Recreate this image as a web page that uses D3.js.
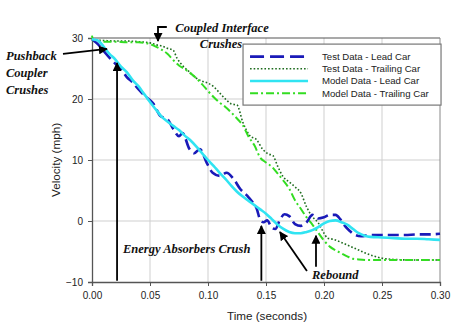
<!DOCTYPE html>
<html>
<head>
<meta charset="utf-8">
<script src="https://cdn.jsdelivr.net/npm/d3@7"></script>
<style>
  body { margin: 0; background: #fff; }
  .tick text { font-family: "Liberation Sans", Arial, sans-serif; font-size: 10px; fill: #222; }
  .note { font-family: "Liberation Serif", "Times New Roman", serif; font-weight: bold; font-style: italic; font-size: 12.5px; fill: #111; }
  .axisText { font-family: "Liberation Sans", Arial, sans-serif; font-size: 11.7px; fill: #222; }
  .legendText { font-family: "Liberation Sans", Arial, sans-serif; font-size: 9.6px; fill: #222; }
</style>
</head>
<body>
<div id="chart"></div>
<script>
// Velocity traces, [time (s), velocity (mph)]
var testLead = [[0,29.8],[0.005,29.0],[0.01,27.9],[0.015,26.8],[0.02,25.8],[0.025,24.9],[0.03,23.6],[0.035,22.7],
  [0.04,21.6],[0.045,20.6],[0.05,19.8],[0.053,19.2],[0.059,17.2],[0.065,16.7],[0.07,15.1],[0.075,13.9],[0.078,14.4],
  [0.084,11.8],[0.088,11.1],[0.093,11.8],[0.099,9.5],[0.104,7.9],[0.11,7.4],[0.116,7.9],[0.122,6.9],[0.128,5.2],
  [0.134,4.1],[0.138,3.2],[0.142,2.0],[0.145,0.2],[0.148,-0.2],[0.151,0.1],[0.155,-1.1],[0.158,-1.3],[0.162,0.2],
  [0.166,1.1],[0.17,0.8],[0.175,-0.5],[0.18,-0.8],[0.185,-0.2],[0.19,1.0],[0.195,0.4],[0.2,0.6],[0.205,1.0],
  [0.21,1.0],[0.214,0.3],[0.218,-0.8],[0.222,-1.6],[0.227,-2.3],[0.232,-2.5],[0.24,-2.3],[0.25,-2.3],[0.26,-2.3],
  [0.27,-2.3],[0.28,-2.2],[0.29,-2.2],[0.3,-2.1]];

var testTrail = [[0,29.7],[0.01,29.6],[0.02,29.5],[0.03,29.5],[0.04,29.4],[0.05,29.2],[0.055,28.9],[0.06,28.7],
  [0.065,28.3],[0.07,28.0],[0.073,26.8],[0.078,25.5],[0.083,24.6],[0.09,23.4],[0.095,22.9],[0.1,22.6],[0.105,22.0],
  [0.11,21.0],[0.115,20.0],[0.12,19.2],[0.125,19.0],[0.13,16.2],[0.136,14.0],[0.142,13.3],[0.147,11.8],[0.152,11.0],
  [0.156,10.7],[0.16,9.0],[0.165,7.2],[0.17,6.4],[0.175,5.6],[0.18,4.6],[0.185,2.3],[0.19,0.7],[0.195,-0.3],
  [0.2,-2.0],[0.203,-2.8],[0.208,-3.0],[0.216,-3.6],[0.222,-4.1],[0.228,-4.6],[0.235,-5.2],[0.242,-5.7],[0.25,-6.1],
  [0.26,-6.3],[0.28,-6.4],[0.3,-6.4]];

var modelLead = [[0,29.8],[0.005,29.6],[0.01,28.6],[0.015,27.4],[0.02,26.5],[0.025,25.3],[0.03,24.4],[0.035,23.1],
  [0.04,22.1],[0.045,20.8],[0.05,19.5],[0.055,18.3],[0.06,17.1],[0.065,16.3],[0.07,15.6],[0.075,14.9],[0.08,14.0],
  [0.085,13.2],[0.09,12.2],[0.095,11.1],[0.1,10.0],[0.105,9.0],[0.11,7.9],[0.115,6.9],[0.12,5.8],[0.125,4.8],
  [0.13,4.0],[0.135,3.3],[0.14,2.6],[0.145,1.9],[0.15,1.2],[0.155,0.3],[0.16,-0.6],[0.165,-1.3],[0.17,-1.8],
  [0.175,-2.0],[0.18,-2.0],[0.185,-1.8],[0.19,-1.5],[0.195,-1.0],[0.2,-0.4],[0.205,0],[0.21,0.1],[0.215,-0.2],
  [0.22,-0.6],[0.225,-1.3],[0.23,-2.0],[0.235,-2.4],[0.24,-2.6],[0.25,-2.7],[0.26,-2.8],[0.27,-2.9],[0.28,-2.9],
  [0.29,-3.0],[0.3,-3.1]];

var modelTrail = [[0,30.4],[0.001,29.5],[0.01,29.4],[0.02,29.4],[0.03,29.3],[0.04,29.3],[0.045,29.2],[0.05,29.0],[0.055,28.6],
  [0.06,28.1],[0.065,27.4],[0.07,26.4],[0.075,25.5],[0.08,24.9],[0.085,24.2],[0.09,23.4],[0.095,22.4],[0.1,21.3],
  [0.105,20.3],[0.11,19.4],[0.115,18.7],[0.12,17.8],[0.125,16.8],[0.13,15.7],[0.135,13.8],[0.14,12.4],[0.145,10.4],
  [0.15,9.6],[0.155,8.9],[0.16,7.8],[0.165,6.6],[0.17,5.3],[0.175,3.4],[0.18,2.0],[0.185,0.6],[0.19,-0.6],
  [0.195,-1.9],[0.2,-3.2],[0.205,-4.2],[0.21,-4.8],[0.215,-5.3],[0.22,-5.8],[0.225,-6.2],[0.23,-6.3],[0.24,-6.4],
  [0.26,-6.4],[0.28,-6.4],[0.3,-6.4]];

var seriesNames = ["Test Data - Lead Car", "Test Data - Trailing Car", "Model Data - Lead Car", "Model Data - Trailing Car"];
var xTicks = [0, 0.05, 0.1, 0.15, 0.2, 0.25, 0.3];
var yTicks = [-10, 0, 10, 20, 30];

var svgWidth = 474, svgHeight = 325;
var margin = { top: 38, right: 34, bottom: 43, left: 92 };
var width = svgWidth - margin.left - margin.right;
var height = svgHeight - margin.top - margin.bottom;

var svg = d3.select("#chart").append("svg")
  .attr("width", svgWidth)
  .attr("height", svgHeight);

var defs = svg.append("defs");
defs.append("marker")
  .attr("id", "head")
  .attr("viewBox", "0 0 10 10")
  .attr("refX", 9).attr("refY", 5)
  .attr("markerWidth", 5).attr("markerHeight", 5)
  .attr("markerUnits", "strokeWidth")
  .attr("orient", "auto")
  .append("path").attr("d", "M0,0L10,5L0,10z").attr("fill", "#000");

var chartGroup = svg.append("g")
  .attr("transform", `translate(${margin.left}, ${margin.top})`);

var x = d3.scaleLinear().domain([0, 0.3]).range([0, width]);
var y = d3.scaleLinear().domain([-10, 30]).range([height, 0]);

// gridlines
chartGroup.append("g").selectAll("line")
  .data(xTicks.slice(1, -1)).enter().append("line")
  .attr("x1", d => x(d)).attr("x2", d => x(d))
  .attr("y1", 0).attr("y2", height)
  .attr("stroke", "#cfcfcf");
chartGroup.append("g").selectAll("line")
  .data(yTicks.slice(1, -1)).enter().append("line")
  .attr("x1", 0).attr("x2", width)
  .attr("y1", d => y(d)).attr("y2", d => y(d))
  .attr("stroke", "#cfcfcf");

// frame top/right
chartGroup.append("line").attr("x1", 0).attr("x2", width).attr("y1", 0).attr("y2", 0)
  .attr("stroke", "#555").attr("stroke-width", 1.2);
chartGroup.append("line").attr("x1", width).attr("x2", width).attr("y1", 0).attr("y2", height)
  .attr("stroke", "#888");

// axes
var bottomAxis = d3.axisBottom(x).tickValues(xTicks).tickFormat(d3.format(".2f")).tickSize(4).tickPadding(6);
var leftAxis = d3.axisLeft(y).tickValues(yTicks).tickSize(4).tickPadding(5);

var gx = chartGroup.append("g").attr("transform", `translate(0, ${height})`).call(bottomAxis);
var gy = chartGroup.append("g").call(leftAxis);
[gx, gy].forEach(function(g) {
  g.select(".domain").attr("stroke", "#555").attr("stroke-width", 1.3);
  g.selectAll(".tick line").attr("stroke", "#555");
});

// series lines
var line = d3.line()
  .x(d => x(d[0]))
  .y(d => y(d[1]))
  .curve(d3.curveMonotoneX);

var styles = [
  { data: testLead,  color: "#1a1ab8", width: 2.6, dash: "11,5" },
  { data: testTrail, color: "#1d6b1d", width: 1.6, dash: "1.6,2" },
  { data: modelLead, color: "#30e4f2", width: 2.6, dash: null },
  { data: modelTrail, color: "#33dd22", width: 2.0, dash: "8,3,2,3" }
];

var drawOrder = [1, 3, 0, 2];
drawOrder.forEach(function(i) {
  var s = styles[i];
  chartGroup.append("path")
    .datum(s.data)
    .attr("fill", "none")
    .attr("stroke", s.color)
    .attr("stroke-width", s.width)
    .attr("stroke-dasharray", s.dash)
    .attr("d", line);
});

// legend
var legend = chartGroup.append("g").attr("transform", `translate(${x(0.1302)}, ${y(29.0)})`);
legend.append("rect")
  .attr("width", 198).attr("height", 61)
  .attr("fill", "#fff").attr("stroke", "#777").attr("stroke-width", 1.2);
var rows = legend.selectAll(".row").data(seriesNames).enter().append("g")
  .attr("transform", (d, i) => `translate(0, ${12.5 + i * 12.2})`);
rows.append("line")
  .attr("x1", 7).attr("x2", 65)
  .attr("stroke", (d, i) => styles[i].color)
  .attr("stroke-width", (d, i) => styles[i].width)
  .attr("stroke-dasharray", (d, i) => i === 0 ? "14,6" : styles[i].dash);
rows.append("text")
  .attr("class", "legendText")
  .attr("x", 79).attr("dy", "0.35em")
  .text(d => d);

// annotation arrows
var arrows = [
  [[-0.025, 27.4], [0.0129, 28.2]],
  [[0.0645, 31.8], [0.0569, 31.8], [0.0569, 29.5]],
  [[0.0216, -9.8], [0.0216, 25.9]],
  [[0.146, -9.8], [0.146, -0.8]],
  [[0.1853, -8.2], [0.162, -1.8]],
  [[0.1931, -7.5], [0.1931, -2.4]]
];
var arrowLine = d3.line().x(d => x(d[0])).y(d => y(d[1]));
chartGroup.selectAll(".arrow").data(arrows).enter().append("path")
  .attr("class", "arrow")
  .attr("fill", "none")
  .attr("stroke", "#000")
  .attr("stroke-width", 1.8)
  .attr("marker-end", "url(#head)")
  .attr("d", arrowLine);

// annotation text
svg.append("text").attr("class", "note").attr("x", 6).attr("y", 60).text("Pushback");
svg.append("text").attr("class", "note").attr("x", 6).attr("y", 77).text("Coupler");
svg.append("text").attr("class", "note").attr("x", 6).attr("y", 94).text("Crushes");
svg.append("text").attr("class", "note").attr("x", 222).attr("y", 32).attr("text-anchor", "middle").text("Coupled Interface");
svg.append("text").attr("class", "note").attr("x", 221).attr("y", 48).attr("text-anchor", "middle").text("Crushes");
svg.append("text").attr("class", "note").attr("x", 123).attr("y", 253).text("Energy Absorbers Crush");
svg.append("text").attr("class", "note").attr("x", 312).attr("y", 279).text("Rebound");

// axis labels
svg.append("text")
  .attr("class", "axisText")
  .attr("transform", "rotate(-90)")
  .attr("x", -160).attr("y", 60)
  .attr("text-anchor", "middle")
  .text("Velocity (mph)");
svg.append("text")
  .attr("class", "axisText")
  .attr("x", 267).attr("y", 320)
  .attr("text-anchor", "middle")
  .text("Time (seconds)");
</script>
</body>
</html>
